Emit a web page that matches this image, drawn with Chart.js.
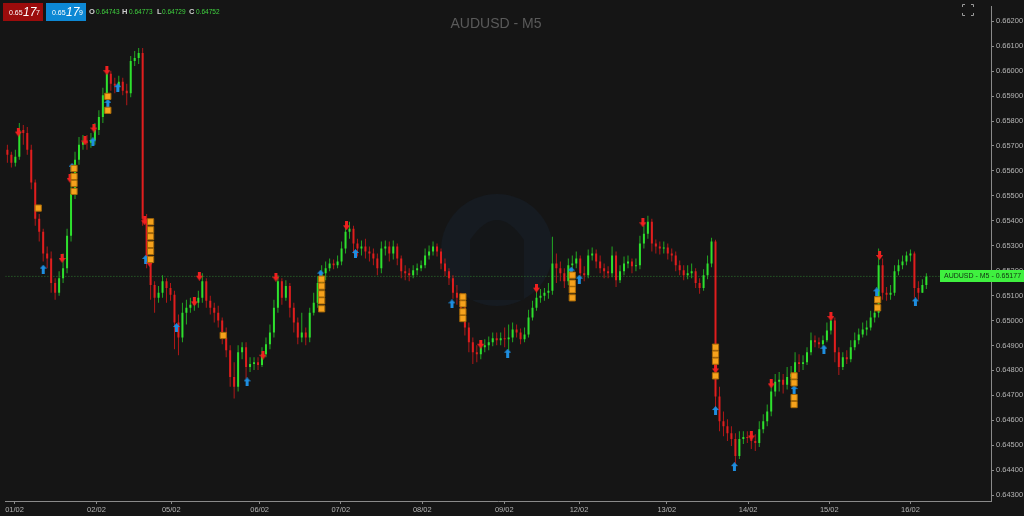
<!DOCTYPE html>
<html>
<head>
<meta charset="utf-8">
<title>AUDUSD - M5</title>
<script src="https://cdn.jsdelivr.net/npm/chart.js@4/dist/chart.umd.min.js"></script>
<style>
  html, body { margin: 0; padding: 0; background: #151515; }
  #chart { display: block; }
</style>
</head>
<body>
<canvas id="chart" width="1024" height="516"></canvas>
<script>
// AUDUSD M5, one candle per slot, prices
const firstOpen = 0.65685;
const closes = [
  0.65665, 0.65633, 0.65657, 0.65764, 0.65752, 0.65685, 0.65554, 0.65408, 0.65356, 0.65269,
  0.65249, 0.65150, 0.65111, 0.65170, 0.65210, 0.65340, 0.65507, 0.65645, 0.65705, 0.65717,
  0.65713, 0.65724, 0.65764, 0.65816, 0.65903, 0.65990, 0.65950, 0.65942, 0.65958, 0.65922,
  0.65911, 0.66041, 0.66053, 0.66073, 0.65408, 0.65237, 0.65142, 0.65091, 0.65111, 0.65158,
  0.65130, 0.65103, 0.64992, 0.64932, 0.65031, 0.65051, 0.65063, 0.65071, 0.65091, 0.65158,
  0.65079, 0.65051, 0.65031, 0.65000, 0.64932, 0.64881, 0.64774, 0.64734, 0.64873, 0.64893,
  0.64814, 0.64826, 0.64833, 0.64822, 0.64865, 0.64905, 0.64952, 0.65051, 0.65158, 0.65091,
  0.65138, 0.65051, 0.64992, 0.64932, 0.64952, 0.64932, 0.65031, 0.65071, 0.65150, 0.65190,
  0.65210, 0.65229, 0.65222, 0.65237, 0.65289, 0.65356, 0.65368, 0.65309, 0.65289, 0.65297,
  0.65277, 0.65269, 0.65249, 0.65210, 0.65289, 0.65297, 0.65269, 0.65297, 0.65249, 0.65198,
  0.65190, 0.65182, 0.65202, 0.65210, 0.65222, 0.65261, 0.65277, 0.65297, 0.65277, 0.65229,
  0.65198, 0.65170, 0.65111, 0.65091, 0.65051, 0.64972, 0.64913, 0.64873, 0.64865, 0.64893,
  0.64901, 0.64913, 0.64929, 0.64921, 0.64929, 0.64925, 0.64932, 0.64964, 0.64952, 0.64925,
  0.64944, 0.65012, 0.65051, 0.65091, 0.65099, 0.65111, 0.65119, 0.65229, 0.65210, 0.65190,
  0.65158, 0.65222, 0.65229, 0.65249, 0.65190, 0.65182, 0.65261, 0.65269, 0.65237, 0.65210,
  0.65198, 0.65190, 0.65261, 0.65162, 0.65198, 0.65229, 0.65237, 0.65218, 0.65222, 0.65309,
  0.65348, 0.65396, 0.65309, 0.65297, 0.65289, 0.65293, 0.65269, 0.65261, 0.65222, 0.65202,
  0.65182, 0.65190, 0.65198, 0.65150, 0.65130, 0.65182, 0.65229, 0.65317, 0.64695, 0.64596,
  0.64576, 0.64548, 0.64525, 0.64457, 0.64525, 0.64533, 0.64529, 0.64517, 0.64509, 0.64564,
  0.64596, 0.64635, 0.64715, 0.64754, 0.64762, 0.64742, 0.64774, 0.64786, 0.64833, 0.64826,
  0.64833, 0.64873, 0.64921, 0.64913, 0.64905, 0.64921, 0.64960, 0.65000, 0.64873, 0.64814,
  0.64853, 0.64845, 0.64893, 0.64921, 0.64944, 0.64964, 0.64972, 0.65012, 0.65031, 0.65222,
  0.65111, 0.65103, 0.65111, 0.65198, 0.65222, 0.65237, 0.65261, 0.65269, 0.65130, 0.65111,
  0.65142, 0.65177
];
const highs = [
  0.65705, 0.65677, 0.65685, 0.65792, 0.65784, 0.65776, 0.65705, 0.65566, 0.65427, 0.65368,
  0.65297, 0.65277, 0.65170, 0.65198, 0.65269, 0.65368, 0.65538, 0.65677, 0.65736, 0.65744,
  0.65744, 0.65752, 0.65792, 0.65843, 0.65934, 0.66014, 0.66002, 0.65974, 0.65982, 0.65974,
  0.65950, 0.66061, 0.66081, 0.66093, 0.66093, 0.65427, 0.65249, 0.65158, 0.65138, 0.65182,
  0.65170, 0.65150, 0.65119, 0.65024, 0.65071, 0.65083, 0.65091, 0.65091, 0.65119, 0.65190,
  0.65170, 0.65099, 0.65071, 0.65059, 0.65012, 0.64972, 0.64901, 0.64833, 0.64901, 0.64913,
  0.64913, 0.64853, 0.64853, 0.64853, 0.64893, 0.64932, 0.64984, 0.65083, 0.65182, 0.65170,
  0.65162, 0.65150, 0.65071, 0.65012, 0.65031, 0.64972, 0.65051, 0.65111, 0.65178, 0.65222,
  0.65237, 0.65249, 0.65245, 0.65261, 0.65317, 0.65388, 0.65396, 0.65380, 0.65328, 0.65321,
  0.65328, 0.65297, 0.65289, 0.65269, 0.65317, 0.65321, 0.65317, 0.65321, 0.65309, 0.65261,
  0.65222, 0.65210, 0.65222, 0.65229, 0.65241, 0.65289, 0.65301, 0.65317, 0.65309, 0.65289,
  0.65249, 0.65210, 0.65182, 0.65142, 0.65111, 0.65071, 0.64992, 0.64932, 0.64901, 0.64921,
  0.64925, 0.64936, 0.64952, 0.64952, 0.64952, 0.64972, 0.64984, 0.64992, 0.64984, 0.64968,
  0.64972, 0.65043, 0.65079, 0.65123, 0.65126, 0.65130, 0.65150, 0.65336, 0.65269, 0.65237,
  0.65210, 0.65249, 0.65261, 0.65277, 0.65261, 0.65218, 0.65285, 0.65293, 0.65285, 0.65261,
  0.65229, 0.65218, 0.65297, 0.65277, 0.65222, 0.65257, 0.65261, 0.65249, 0.65249, 0.65340,
  0.65380, 0.65420, 0.65408, 0.65325, 0.65317, 0.65317, 0.65309, 0.65289, 0.65277, 0.65241,
  0.65222, 0.65222, 0.65229, 0.65210, 0.65170, 0.65206, 0.65261, 0.65332, 0.65324, 0.64734,
  0.64635, 0.64604, 0.64576, 0.64548, 0.64556, 0.64556, 0.64556, 0.64556, 0.64544, 0.64596,
  0.64624, 0.64663, 0.64754, 0.64786, 0.64794, 0.64786, 0.64814, 0.64818, 0.64873, 0.64865,
  0.64861, 0.64893, 0.64952, 0.64940, 0.64932, 0.64940, 0.64992, 0.65020, 0.65012, 0.64893,
  0.64873, 0.64881, 0.64921, 0.64952, 0.64968, 0.64992, 0.65000, 0.65039, 0.65059, 0.65289,
  0.65249, 0.65134, 0.65142, 0.65222, 0.65245, 0.65261, 0.65277, 0.65285, 0.65277, 0.65158,
  0.65166, 0.65190
];
const lows = [
  0.65633, 0.65614, 0.65618, 0.65645, 0.65705, 0.65665, 0.65526, 0.65380, 0.65317, 0.65237,
  0.65210, 0.65111, 0.65083, 0.65099, 0.65150, 0.65190, 0.65317, 0.65487, 0.65625, 0.65685,
  0.65685, 0.65693, 0.65705, 0.65744, 0.65792, 0.65883, 0.65922, 0.65911, 0.65922, 0.65903,
  0.65863, 0.65895, 0.66021, 0.66029, 0.65380, 0.65210, 0.65083, 0.65031, 0.65071, 0.65091,
  0.65071, 0.65079, 0.64885, 0.64861, 0.64913, 0.64984, 0.65031, 0.65039, 0.65051, 0.65071,
  0.65051, 0.65024, 0.64992, 0.64972, 0.64905, 0.64853, 0.64734, 0.64687, 0.64715, 0.64845,
  0.64766, 0.64794, 0.64802, 0.64802, 0.64814, 0.64853, 0.64885, 0.64932, 0.65031, 0.65063,
  0.65079, 0.65012, 0.64952, 0.64905, 0.64913, 0.64901, 0.64913, 0.65020, 0.65051, 0.65130,
  0.65162, 0.65198, 0.65206, 0.65210, 0.65222, 0.65269, 0.65328, 0.65269, 0.65257, 0.65261,
  0.65249, 0.65237, 0.65222, 0.65182, 0.65190, 0.65261, 0.65237, 0.65245, 0.65222, 0.65170,
  0.65162, 0.65158, 0.65170, 0.65182, 0.65198, 0.65210, 0.65245, 0.65261, 0.65257, 0.65206,
  0.65178, 0.65142, 0.65087, 0.65063, 0.65024, 0.64940, 0.64873, 0.64826, 0.64833, 0.64845,
  0.64873, 0.64881, 0.64897, 0.64901, 0.64901, 0.64893, 0.64881, 0.64913, 0.64932, 0.64905,
  0.64913, 0.64932, 0.65000, 0.65039, 0.65071, 0.65079, 0.65087, 0.65103, 0.65150, 0.65158,
  0.65130, 0.65142, 0.65202, 0.65210, 0.65162, 0.65158, 0.65170, 0.65241, 0.65210, 0.65190,
  0.65170, 0.65170, 0.65174, 0.65134, 0.65150, 0.65182, 0.65210, 0.65190, 0.65198, 0.65206,
  0.65289, 0.65328, 0.65277, 0.65269, 0.65265, 0.65269, 0.65245, 0.65237, 0.65198, 0.65182,
  0.65162, 0.65166, 0.65170, 0.65130, 0.65107, 0.65119, 0.65166, 0.65214, 0.64635, 0.64556,
  0.64536, 0.64517, 0.64497, 0.64410, 0.64445, 0.64505, 0.64509, 0.64485, 0.64477, 0.64493,
  0.64548, 0.64576, 0.64616, 0.64695, 0.64715, 0.64707, 0.64723, 0.64754, 0.64774, 0.64794,
  0.64802, 0.64822, 0.64861, 0.64893, 0.64889, 0.64893, 0.64913, 0.64944, 0.64833, 0.64782,
  0.64802, 0.64826, 0.64833, 0.64881, 0.64905, 0.64932, 0.64940, 0.64960, 0.64992, 0.65012,
  0.65083, 0.65079, 0.65083, 0.65099, 0.65182, 0.65206, 0.65222, 0.65237, 0.65091, 0.65083,
  0.65111, 0.65126
];

// day separators (slot index) and their labels
const dayTicks = [1.8, 22.4, 41.2, 63.4, 83.8, 104.3, 124.9, 143.7, 165.75, 186.2, 206.6, 227];
const dayLabels = ['01/02', '02/02', '05/02', '06/02', '07/02', '08/02', '09/02', '12/02', '13/02', '14/02', '15/02', '16/02'];

// indicator marks: orange blocks, sell arrows, buy arrows
const blockIdx = [7.75, 16.75, 16.75, 16.75, 16.75, 25.25, 25.25, 36, 36, 36, 36, 36, 36, 54.25,
  79, 79, 79, 79, 79, 114.5, 114.5, 114.5, 114.5, 142, 142, 142, 142, 178, 178, 178, 178,
  197.75, 197.75, 197.75, 197.75, 218.75, 218.75];
const blockPx = [0.65451, 0.65610, 0.65578, 0.65550, 0.65518, 0.65899, 0.65843,
  0.65396, 0.65364, 0.65336, 0.65305, 0.65277, 0.65245, 0.64940,
  0.65166, 0.65138, 0.65107, 0.65079, 0.65047, 0.65095, 0.65067, 0.65035, 0.65008,
  0.65182, 0.65150, 0.65123, 0.65091, 0.64893, 0.64865, 0.64837, 0.64778,
  0.64778, 0.64750, 0.64691, 0.64663, 0.65083, 0.65051];
const sellIdx = [2.75, 13.75, 15.75, 19.5, 21.75, 25, 34.5, 35.75, 47, 48.25, 64.25, 67.5, 85.25,
  119, 133, 159.75, 178, 187, 192, 207, 219.25];
const sellPx = [0.65756, 0.65249, 0.65570, 0.65720, 0.65772, 0.66002, 0.65400, 0.65233, 0.65075,
  0.65178, 0.64861, 0.65174, 0.65380, 0.64905, 0.65130, 0.65392, 0.64806, 0.64537, 0.64746,
  0.65016, 0.65261];
const buyIdx = [9, 16.25, 21.5, 25.25, 27.75, 34.75, 42.5, 60.25, 78.75, 87.5, 111.75, 125.75,
  141.75, 143.75, 178, 182.75, 197.75, 205.25, 218.5, 228.25];
const buyPx = [0.65206, 0.65614, 0.65717, 0.65871, 0.65934, 0.65245, 0.64972, 0.64754, 0.65186,
  0.65269, 0.65067, 0.64869, 0.65198, 0.65166, 0.64639, 0.64414, 0.64723, 0.64885, 0.65115,
  0.65075];

const opens = [firstOpen].concat(closes.slice(0, -1));
const lastPrice = closes[closes.length - 1];
const UP = '#2ee02e', DOWN = '#e01e1e';
const UP_WICK = '#23a823', DOWN_WICK = '#b01818';
const upFlags = closes.map((c, i) => c >= opens[i]);

function arrow(color, up) {
  const c = document.createElement('canvas');
  c.width = 7; c.height = 9;
  const g = c.getContext('2d');
  g.fillStyle = color;
  g.beginPath();
  if (up) {
    g.moveTo(3.5, 0); g.lineTo(7, 4); g.lineTo(0, 4);
    g.closePath(); g.fill();
    g.fillRect(2, 4, 3, 5);
  } else {
    g.fillRect(2, 0, 3, 5);
    g.moveTo(0, 4); g.lineTo(7, 4); g.lineTo(3.5, 9);
    g.closePath(); g.fill();
  }
  return c;
}

const background = {
  id: 'background',
  beforeDraw(chart) {
    const ctx = chart.ctx;
    ctx.save();
    ctx.fillStyle = '#151515';
    ctx.fillRect(0, 0, chart.width, chart.height);
    // faint logo watermark
    ctx.fillStyle = '#161b21';
    ctx.beginPath();
    ctx.arc(497, 250, 56, 0, Math.PI * 2);
    ctx.fill();
    ctx.fillStyle = '#141618';
    ctx.beginPath();
    ctx.moveTo(470, 300);
    ctx.lineTo(470, 240);
    ctx.quadraticCurveTo(497, 200, 524, 240);
    ctx.lineTo(524, 300);
    ctx.closePath();
    ctx.fill();
    ctx.restore();
  }
};

const overlay = {
  id: 'overlay',
  afterDraw(chart) {
    const ctx = chart.ctx;
    const y = Math.round(chart.scales.y.getPixelForValue(lastPrice));
    ctx.save();

    // title
    ctx.fillStyle = '#5a5a5a';
    ctx.font = '14px "Liberation Sans", Arial, sans-serif';
    ctx.textAlign = 'center';
    ctx.textBaseline = 'alphabetic';
    ctx.fillText('AUDUSD - M5', 496, 28);

    // bid / ask boxes
    ctx.textAlign = 'left';
    [[3, '#9b0c0c', '7'], [46, '#0d88d4', '9']].forEach(([bx, col, last]) => {
      ctx.fillStyle = col;
      ctx.fillRect(bx, 3, 40, 18);
      ctx.fillStyle = '#ffffff';
      ctx.font = '7px "Liberation Sans", Arial, sans-serif';
      ctx.fillText('0.65', bx + 6, 15);
      ctx.font = 'italic 12px "Liberation Sans", Arial, sans-serif';
      ctx.fillText('17', bx + 20, 16);
      ctx.font = '7px "Liberation Sans", Arial, sans-serif';
      ctx.fillText(last, bx + 33, 15);
    });

    // OHLC read-out
    [['O', 89, 96, '0.64743'], ['H', 122, 129, '0.64773'], ['L', 157, 162, '0.64729'], ['C', 189, 196, '0.64752']].forEach(([k, x, vx, v]) => {
      ctx.fillStyle = '#cfcfcf';
      ctx.font = 'bold 7.5px "Liberation Sans", Arial, sans-serif';
      ctx.fillText(k, x, 13.5);
      ctx.fillStyle = '#3fd23f';
      ctx.font = '6.5px "Liberation Sans", Arial, sans-serif';
      ctx.fillText(v, vx, 13.5);
    });

    // expand icon
    ctx.strokeStyle = '#9a9a9a';
    ctx.lineWidth = 1;
    ctx.beginPath();
    ctx.moveTo(962.5, 7); ctx.lineTo(962.5, 4.5); ctx.lineTo(965, 4.5);
    ctx.moveTo(971, 4.5); ctx.lineTo(973.5, 4.5); ctx.lineTo(973.5, 7);
    ctx.moveTo(962.5, 13); ctx.lineTo(962.5, 15.5); ctx.lineTo(965, 15.5);
    ctx.moveTo(971, 15.5); ctx.lineTo(973.5, 15.5); ctx.lineTo(973.5, 13);
    ctx.stroke();

    // last price tag
    ctx.fillStyle = '#3ff03f';
    ctx.fillRect(940, y - 6, 84, 12);
    ctx.fillStyle = '#133013';
    ctx.font = '7px "Liberation Sans", Arial, sans-serif';
    ctx.textBaseline = 'middle';
    ctx.fillText('AUDUSD - M5 - ' + lastPrice.toFixed(5), 944, y + 0.5);
    ctx.restore();
  }
};

Chart.defaults.font.family = '"Liberation Sans", Arial, sans-serif';

new Chart(document.getElementById('chart'), {
  type: 'bar',
  data: {
    datasets: [
      {
        type: 'line',
        data: [{ x: -0.5, y: lastPrice }, { x: 247.25, y: lastPrice }],
        borderColor: '#2f7a2f',
        borderWidth: 1,
        borderDash: [1, 2],
        pointRadius: 0,
        order: 6
      },
      {
        data: closes.map((c, i) => ({ x: i, y: [lows[i], highs[i]] })),
        backgroundColor: upFlags.map(u => u ? UP_WICK : DOWN_WICK),
        maxBarThickness: 1,
        grouped: false,
        order: 5
      },
      {
        data: closes.map((c, i) => ({ x: i, y: [opens[i], c] })),
        backgroundColor: upFlags.map(u => u ? UP : DOWN),
        maxBarThickness: 2,
        minBarLength: 1,
        grouped: false,
        order: 4
      },
      {
        type: 'scatter',
        data: blockIdx.map((x, i) => ({ x: x, y: blockPx[i] })),
        pointStyle: 'rect',
        pointRadius: 4.4,
        backgroundColor: '#f6a21c',
        borderColor: '#a86a08',
        borderWidth: 1,
        order: 1
      },
      {
        type: 'scatter',
        data: sellIdx.map((x, i) => ({ x: x, y: sellPx[i] })),
        pointStyle: arrow('#f02020', false),
        order: 2
      },
      {
        type: 'scatter',
        data: buyIdx.map((x, i) => ({ x: x, y: buyPx[i] })),
        pointStyle: arrow('#1e8ee0', true),
        order: 2
      }
    ]
  },
  options: {
    responsive: false,
    animation: false,
    devicePixelRatio: 1,
    layout: { padding: 0 },
    plugins: {
      legend: { display: false },
      tooltip: { enabled: false },
      title: { display: false }
    },
    scales: {
      x: {
        type: 'linear',
        min: -0.5,
        max: 247.25,
        offset: false,
        border: { color: '#8a8a8a', width: 1 },
        grid: { drawOnChartArea: false, offset: false, tickLength: 3, color: '#8a8a8a' },
        ticks: {
          autoSkip: false,
          maxRotation: 0,
          padding: 1,
          color: '#b4b4b4',
          font: { size: 7.5 },
          callback: (v, i) => dayLabels[i]
        },
        afterBuildTicks: s => { s.ticks = dayTicks.map(v => ({ value: v })); },
        afterFit: s => { s.height = 15; }
      },
      y: {
        type: 'linear',
        position: 'right',
        min: 0.642762,
        max: 0.662594,
        border: { color: '#8a8a8a', width: 1 },
        grid: { drawOnChartArea: false, tickLength: 3, color: '#8a8a8a' },
        ticks: {
          stepSize: 0.001,
          includeBounds: false,
          padding: 2,
          color: '#b4b4b4',
          font: { size: 7.5 },
          callback: v => v.toFixed(5)
        },
        afterFit: s => { s.width = 33; }
      }
    }
  },
  plugins: [background, overlay]
});
</script>
</body>
</html>
